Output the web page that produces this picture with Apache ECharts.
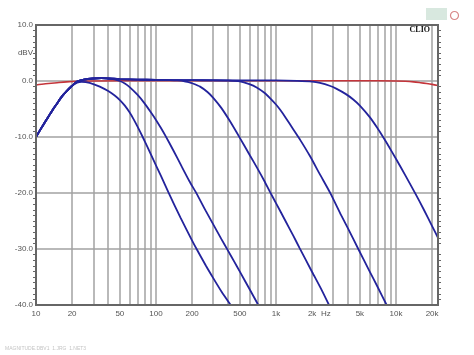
<!DOCTYPE html>
<html>
<head>
<meta charset="utf-8">
<script src="https://cdn.jsdelivr.net/npm/echarts@6/dist/echarts.min.js"></script>
<style>
  html, body { margin: 0; padding: 0; background: #ffffff; }
  #chart { width: 474px; height: 355px; }
</style>
</head>
<body>
<div id="chart"></div>
<script>
// ---- axis description ----
const xMin = 10;
const xMax = 22400;
const xGridValues = [20, 30, 40, 50, 60, 70, 80, 90, 100, 200, 300, 400, 500, 600, 700, 800, 900,
  1000, 2000, 3000, 4000, 5000, 6000, 7000, 8000, 9000, 10000, 20000];
const xLabelValues = [10, 20, 50, 100, 200, 500, 1000, 2000, 2600, 5000, 10000, 20000];
const xLabelTexts = ['10', '20', '50', '100', '200', '500', '1k', '2k', 'Hz', '5k', '10k', '20k'];
const yLabelValues = [-40, -30, -20, -10, 0, 5, 10];
const yLabelTexts = ['-40.0', '-30.0', '-20.0', '-10.0', '0.0', 'dBV', '10.0'];

// ---- measured curves: [frequency Hz, level dBV] ----
const fullRange = [[10, -0.7], [12, -0.5], [15, -0.3], [18, -0.15], [22, -0.05], [30, 0.0], [100, 0.05],
  [1000, 0.05], [5000, 0.05], [10000, 0.0], [12000, -0.05], [14000, -0.15], [16000, -0.3],
  [18000, -0.45], [20000, -0.6], [22400, -0.8]];

const highPassRise = [[10, -10], [11, -8.5], [12, -7.2], [13, -6.0], [14, -4.9], [15, -4.0], [16, -3.1],
  [17, -2.4], [18, -1.8], [20, -0.85]];

const lowPass1 = [[22, -0.3], [24, -0.15], [26, -0.22], [30, -0.55], [34, -1.0], [40, -1.8], [45, -2.55],
  [50, -3.4], [55, -4.4], [60, -5.55], [65, -6.8], [70, -8.1], [77.5, -10.0], [85, -11.8], [95, -14.05],
  [110, -16.95], [127, -19.9], [160, -24.4], [200, -28.5], [218, -30.0], [260, -32.95], [300, -35.2],
  [350, -37.55], [419, -40]];

const lowPass2 = [[22, -0.1], [25, 0.25], [30, 0.45], [35, 0.5], [40, 0.45], [45, 0.3], [50, 0.0],
  [55, -0.45], [60, -1.05], [70, -2.45], [80, -3.95], [90, -5.5], [100, -6.95], [110, -8.4],
  [120, -9.8], [140, -12.45], [164, -15.3], [190, -17.9], [218, -20.1], [260, -23.2], [300, -25.6],
  [350, -28.2], [396, -30.2], [450, -32.3], [500, -34.05], [600, -37.1], [712, -40]];

const lowPass3 = [[22, -0.1], [25, 0.25], [30, 0.45], [35, 0.5], [40, 0.45], [50, 0.35], [70, 0.25],
  [100, 0.2], [130, 0.15], [150, 0.1], [170, 0.0], [190, -0.25], [200, -0.4], [233, -1.0],
  [270, -2.0], [300, -3.0], [350, -4.8], [414, -7.2], [501, -10.2], [607, -13.3], [700, -15.6],
  [800, -17.85], [891, -19.8], [1000, -21.8], [1200, -25.0], [1400, -27.7], [1570, -29.8],
  [2000, -34.1], [2400, -37.3], [2766, -40]];

const lowPass4 = [[22, -0.1], [25, 0.25], [30, 0.45], [35, 0.5], [40, 0.45], [50, 0.35], [70, 0.25],
  [100, 0.2], [200, 0.15], [300, 0.12], [400, 0.08], [500, -0.05], [600, -0.55], [690, -1.15],
  [800, -2.1], [891, -3.05], [1000, -4.2], [1080, -5.1], [1200, -6.5], [1400, -8.7], [1600, -10.6],
  [1919, -13.4], [2300, -16.5], [2850, -20.1], [3500, -24.0], [4000, -26.4], [4853, -30.0],
  [6000, -33.9], [7000, -36.7], [8363, -40]];

const lowPass5 = [[22, -0.1], [25, 0.25], [30, 0.45], [35, 0.5], [40, 0.45], [50, 0.35], [70, 0.25],
  [100, 0.2], [200, 0.15], [500, 0.12], [1000, 0.1], [1500, 0.02], [2000, -0.12], [2326, -0.35],
  [2800, -0.85], [3205, -1.4], [3800, -2.3], [4406, -3.3], [5000, -4.4], [6070, -6.5], [7000, -8.4],
  [7600, -9.6], [8500, -11.3], [10130, -14.1], [12000, -16.9], [14590, -20.2], [17000, -22.9],
  [20000, -25.9], [22400, -28.0]];

function pickLabel(values, texts, v, useLog) {
  for (let i = 0; i < values.length; i++) {
    const d = useLog ? Math.abs(Math.log10(values[i]) - Math.log10(v)) : Math.abs(values[i] - v);
    if (d < 0.01) return texts[i];
  }
  return '';
}

const chart = echarts.init(document.getElementById('chart'), null, { renderer: 'canvas' });
const blue = '#23239c';
const labelFont = { fontFamily: 'Liberation Sans, Arial, sans-serif', fontSize: 8, color: '#555' };

function blueSeries(name, pts) {
  return {
    name: name, type: 'line', data: pts, showSymbol: false, smooth: 0.2, z: 3,
    lineStyle: { color: blue, width: 1.8 }, emphasis: { disabled: true }
  };
}

const option = {
  animation: false,
  backgroundColor: '#ffffff',
  grid: {
    left: 36, top: 25, width: 402, height: 280,
    containLabel: false, outerBoundsMode: 'none',
    show: true, borderColor: '#666', borderWidth: 2, backgroundColor: 'transparent', z: 10
  },
  xAxis: {
    type: 'log', logBase: 10, min: xMin, max: xMax,
    axisLine: { show: false },
    axisTick: { show: false, customValues: xGridValues },
    splitLine: { show: true, lineStyle: { color: '#a2a2a2', width: 1.5 } },
    minorTick: { show: false },
    axisLabel: Object.assign({
      customValues: xLabelValues, margin: 5,
      formatter: v => pickLabel(xLabelValues, xLabelTexts, v, true)
    }, labelFont)
  },
  yAxis: [{
    type: 'value', min: -40, max: 10, interval: 10, position: 'left',
    axisLine: { show: false },
    axisTick: { show: false },
    minorTick: { show: true, splitNumber: 10, length: 3, inside: true, lineStyle: { color: '#666', width: 1 } },
    splitLine: { show: true, lineStyle: { color: '#a2a2a2', width: 1.5 } },
    axisLabel: Object.assign({
      customValues: yLabelValues, margin: 3,
      formatter: v => pickLabel(yLabelValues, yLabelTexts, v, false)
    }, labelFont)
  }, {
    type: 'value', min: -40, max: 10, interval: 10, position: 'right',
    axisLine: { show: false },
    axisTick: { show: false },
    axisLabel: { show: false },
    splitLine: { show: false },
    minorTick: { show: true, splitNumber: 10, length: 3, inside: true, lineStyle: { color: '#666', width: 1 } }
  }],
  series: [
    {
      name: 'full', type: 'line', data: fullRange, showSymbol: false, smooth: 0.3, z: 2,
      lineStyle: { color: '#c4343a', width: 1.6 }, emphasis: { disabled: true }
    },
    blueSeries('lp1', highPassRise.concat(lowPass1)),
    blueSeries('lp2', highPassRise.concat(lowPass2)),
    blueSeries('lp3', highPassRise.concat(lowPass3)),
    blueSeries('lp4', highPassRise.concat(lowPass4)),
    blueSeries('lp5', highPassRise.concat(lowPass5))
  ],
  graphic: [
    {
      type: 'text', right: 44, top: 26, z: 20,
      style: { text: 'CLIO', font: 'bold 8px "Liberation Serif", "DejaVu Serif", serif', fill: '#111' }
    },
    {
      type: 'text', left: 5, top: 346, z: 20,
      style: { text: 'MAGNITUDE.DBV1  1.JRG  1.NET3', font: '5px "Liberation Sans", sans-serif', fill: '#c4c4c4' }
    },
    {
      type: 'rect', left: 426, top: 8, z: 20,
      shape: { width: 21, height: 12 }, style: { fill: '#d8e8df' }
    },
    {
      type: 'circle', left: 448, top: 9, z: 20,
      shape: { r: 4 }, style: { fill: 'none', stroke: '#d88888', lineWidth: 1.2 }
    }
  ]
};
chart.setOption(option);
</script>
</body>
</html>
